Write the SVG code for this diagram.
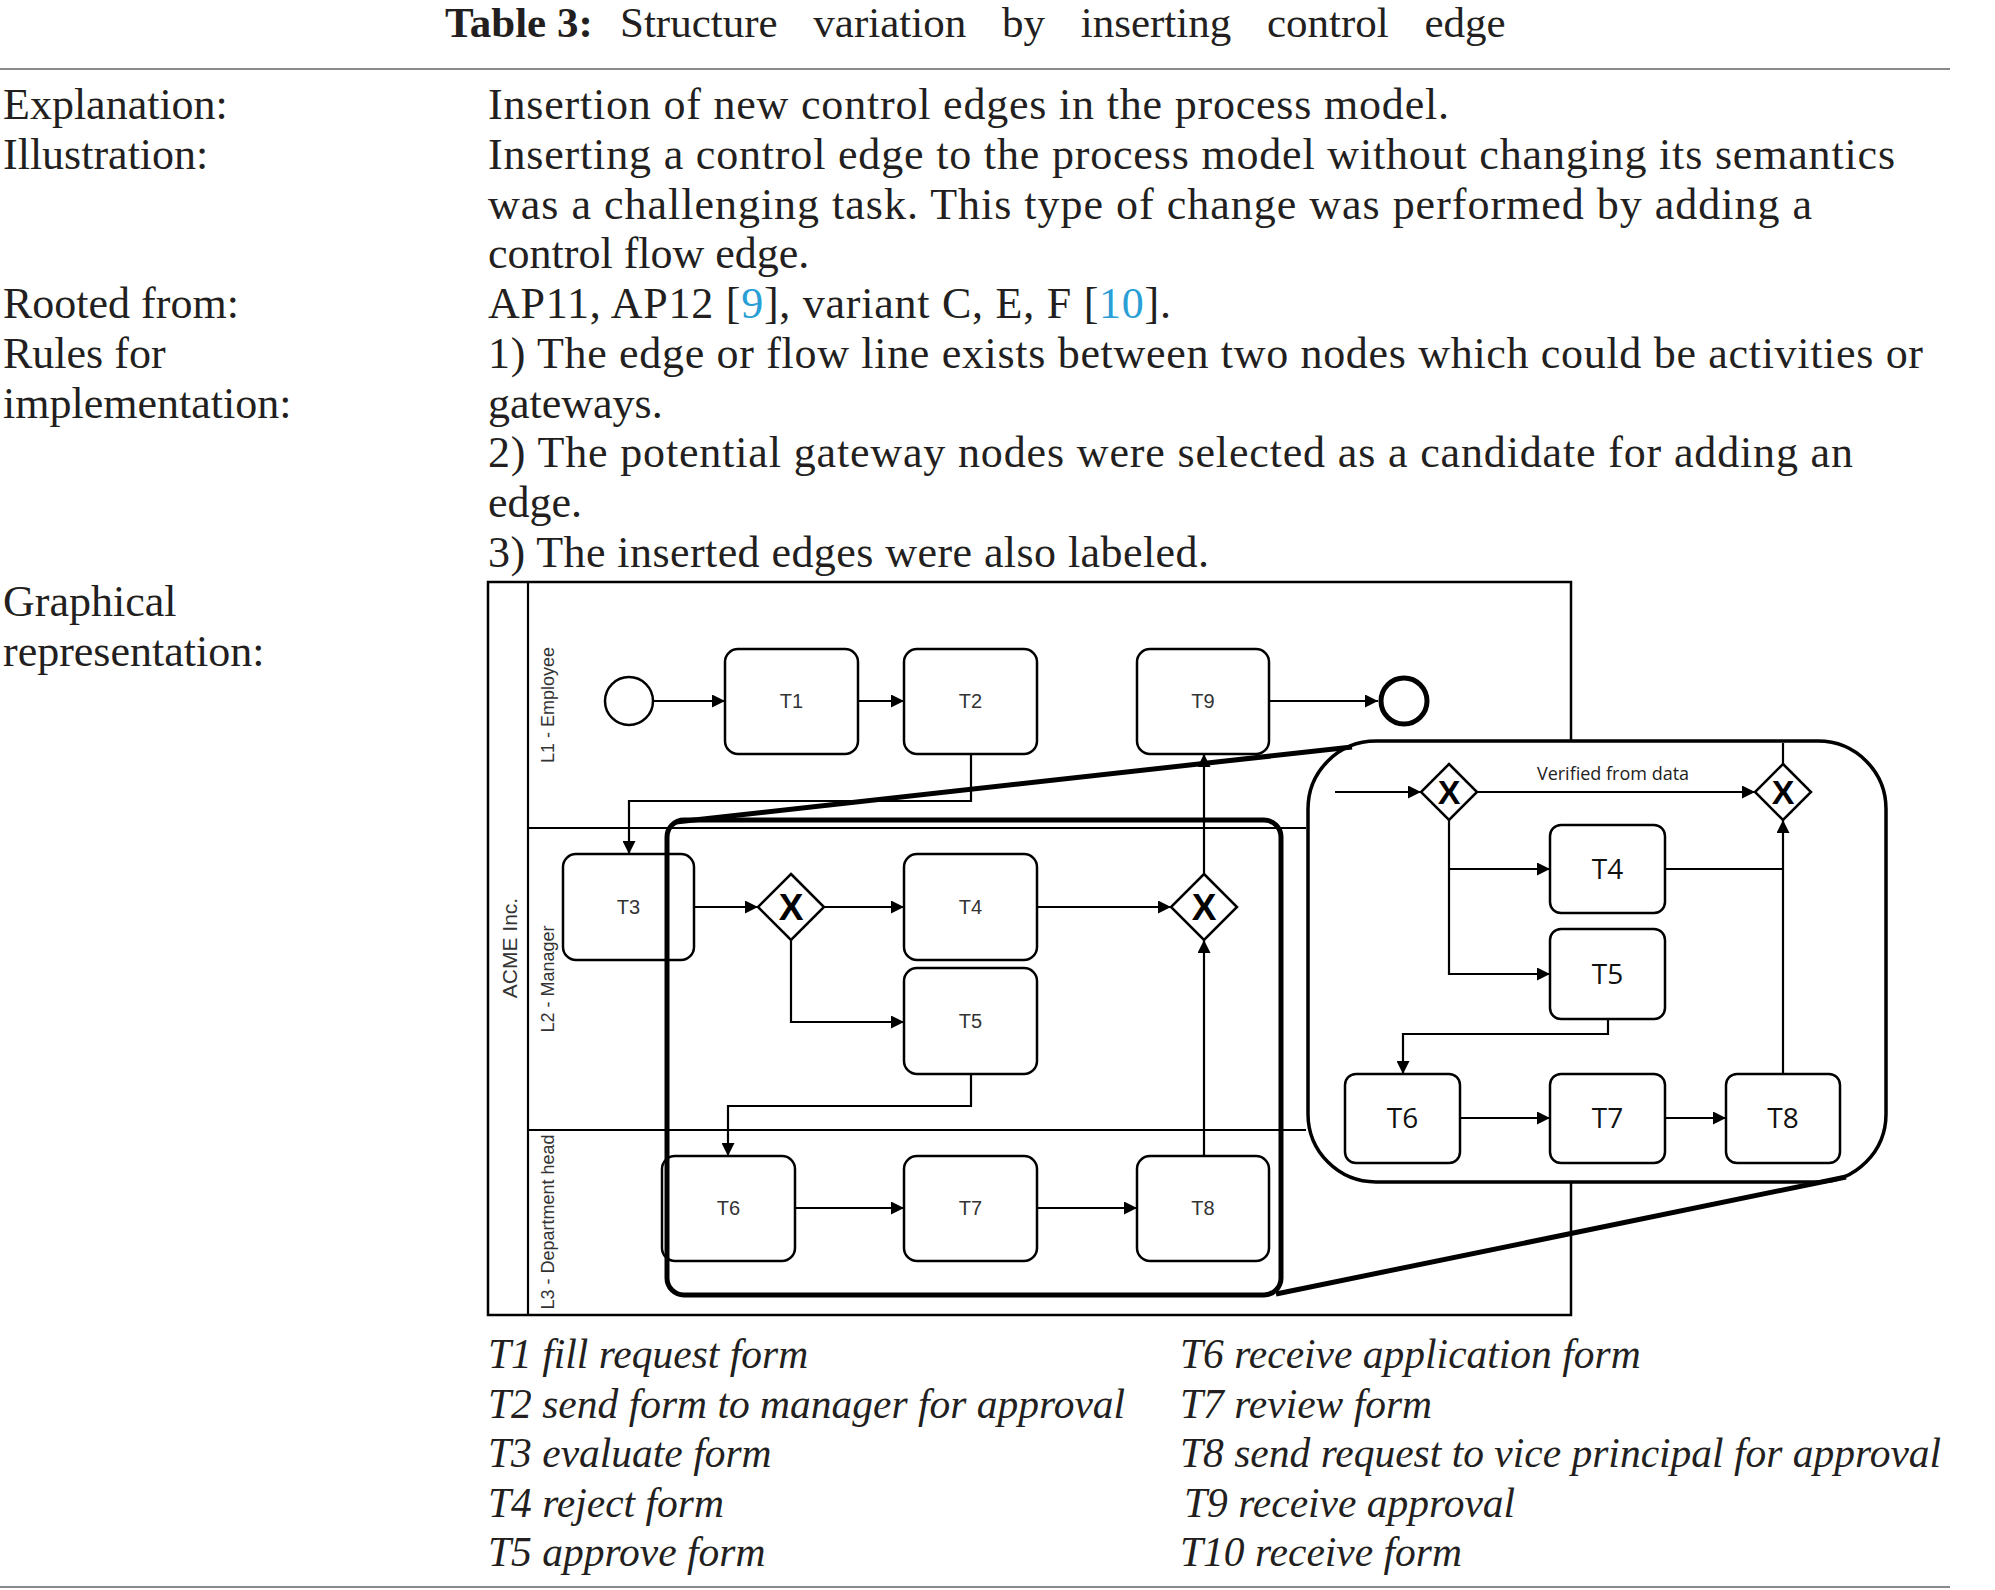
<svg xmlns="http://www.w3.org/2000/svg" width="1995" height="1590" viewBox="0 0 1995 1590">
<defs>
<style>
.title{font-family:"Liberation Serif","Times New Roman",serif;font-size:43px;fill:#231f20}
.body{font-family:"Liberation Serif","Times New Roman",serif;font-size:44px;fill:#231f20}
.leg{font-family:"Liberation Serif","Times New Roman",serif;font-size:41.5px;font-style:italic;fill:#231f20}
.task{fill:#fff;stroke:#000;stroke-width:2.5}
.tl{font-family:"Liberation Sans",Arial,sans-serif;font-size:20px;fill:#333;text-anchor:middle}
.tc{font-family:"Open Sans","Noto Sans",sans-serif;font-size:28px;fill:#111;text-anchor:middle}
.gw{fill:#fff;stroke:#000;stroke-width:2.5}
.gx{font-family:"Liberation Sans",Arial,sans-serif;font-weight:bold;font-size:37px;fill:#000;text-anchor:middle}
.gxc{font-family:"Liberation Sans",Arial,sans-serif;font-weight:bold;font-size:34px;fill:#000;text-anchor:middle}
.ln{font-family:"Liberation Sans",Arial,sans-serif;font-size:18px;fill:#333;text-anchor:middle}
.edge{fill:none;stroke:#000;stroke-width:2.2}
.arr{marker-end:url(#ah)}
.lane{stroke:#000;stroke-width:2.2;fill:none}
</style>
<marker id="ah" viewBox="0 0 13 13" refX="13" refY="6.5" markerWidth="13" markerHeight="13" markerUnits="userSpaceOnUse" orient="auto">
<path d="M0,0 L13,6.5 L0,13 z" fill="#000"/>
</marker>
</defs>
<rect width="1995" height="1590" fill="#fff"/>

<g id="table-text">
<text class="title" x="445" y="37" font-weight="bold">Table 3:</text>
<text class="title" x="620" y="37" word-spacing="25">Structure variation by inserting control edge</text>
<line x1="0" y1="69" x2="1950" y2="69" stroke="#8a8a8a" stroke-width="2"/>
<text class="body" x="3" y="119">Explanation:</text>
<text class="body" x="3" y="169">Illustration:</text>
<text class="body" x="3" y="318">Rooted from:</text>
<text class="body" x="3" y="368">Rules for</text>
<text class="body" x="3" y="418">implementation:</text>
<text class="body" x="3" y="616">Graphical</text>
<text class="body" x="3" y="666">representation:</text>
<text class="body" x="488" y="119" textLength="961" lengthAdjust="spacing">Insertion of new control edges in the process model.</text>
<text class="body" x="488" y="169" textLength="1407" lengthAdjust="spacing">Inserting a control edge to the process model without changing its semantics</text>
<text class="body" x="488" y="219" textLength="1324" lengthAdjust="spacing">was a challenging task. This type of change was performed by adding a</text>
<text class="body" x="488" y="268">control flow edge.</text>
<text class="body" x="488" y="318" textLength="683" lengthAdjust="spacing">AP11, AP12 [<tspan fill="#2a9fd6">9</tspan>], variant C, E, F [<tspan fill="#2a9fd6">10</tspan>].</text>
<text class="body" x="488" y="368" textLength="1435" lengthAdjust="spacing">1) The edge or flow line exists between two nodes which could be activities or</text>
<text class="body" x="488" y="418">gateways.</text>
<text class="body" x="488" y="467" textLength="1365" lengthAdjust="spacing">2) The potential gateway nodes were selected as a candidate for adding an</text>
<text class="body" x="488" y="517">edge.</text>
<text class="body" x="488" y="567" textLength="721" lengthAdjust="spacing">3) The inserted edges were also labeled.</text>
</g>

<g id="pool">
<rect x="488" y="582" width="1083" height="733" fill="none" stroke="#000" stroke-width="2.5"/>
<line class="lane" x1="528" y1="582" x2="528" y2="1315"/>
<line class="lane" x1="528" y1="828" x2="1306" y2="828"/>
<line class="lane" x1="528" y1="1130" x2="1306" y2="1130"/>
<text x="0" y="0" transform="translate(517,948) rotate(-90)" font-family="Liberation Sans,Arial,sans-serif" font-size="21" fill="#333" text-anchor="middle">ACME Inc.</text>
<text class="ln" x="0" y="0" transform="translate(554,705) rotate(-90)">L1 - Employee</text>
<text class="ln" x="0" y="0" transform="translate(554,979) rotate(-90)">L2 - Manager</text>
<text class="ln" x="0" y="0" transform="translate(554,1222) rotate(-90)">L3 - Department head</text>
</g>

<g id="connectors">
<path class="edge arr" d="M653,701 H725"/>
<path class="edge arr" d="M858,701 H904"/>
<path class="edge arr" d="M971,754 V801 H629 V854"/>
<path class="edge arr" d="M694,907 H758"/>
<path class="edge arr" d="M824,907 H904"/>
<path class="edge arr" d="M791,940 V1022 H904"/>
<path class="edge arr" d="M1037,907 H1171"/>
<path class="edge arr" d="M971,1074 V1106 H728 V1156"/>
<path class="edge arr" d="M795,1208 H904"/>
<path class="edge arr" d="M1037,1208 H1137"/>
<path class="edge arr" d="M1204,1156 V940"/>
<path class="edge arr" d="M1204,874 V754"/>
<path class="edge arr" d="M1269,701 H1378"/>
</g>

<g id="start"><circle cx="629" cy="701" r="24" fill="#fff" stroke="#000" stroke-width="2.5"/></g>
<g id="end"><circle cx="1404" cy="701" r="23" fill="#fff" stroke="#000" stroke-width="5"/></g>
<g id="T1"><rect class="task" x="725" y="649" width="133" height="105" rx="13"/><text class="tl" x="791.5" y="708">T1</text></g>
<g id="T2"><rect class="task" x="904" y="649" width="133" height="105" rx="13"/><text class="tl" x="970.5" y="708">T2</text></g>
<g id="T9"><rect class="task" x="1137" y="649" width="132" height="105" rx="13"/><text class="tl" x="1203" y="708">T9</text></g>
<g id="T3"><rect class="task" x="563" y="854" width="131" height="106" rx="13"/><text class="tl" x="628.5" y="914">T3</text></g>
<g id="T4"><rect class="task" x="904" y="854" width="133" height="106" rx="13"/><text class="tl" x="970.5" y="914">T4</text></g>
<g id="T5"><rect class="task" x="904" y="968" width="133" height="106" rx="13"/><text class="tl" x="970.5" y="1028">T5</text></g>
<g id="T6"><rect class="task" x="662" y="1156" width="133" height="105" rx="13"/><text class="tl" x="728.5" y="1215">T6</text></g>
<g id="T7"><rect class="task" x="904" y="1156" width="133" height="105" rx="13"/><text class="tl" x="970.5" y="1215">T7</text></g>
<g id="T8"><rect class="task" x="1137" y="1156" width="132" height="105" rx="13"/><text class="tl" x="1203" y="1215">T8</text></g>
<g id="G1"><polygon class="gw" points="791,874 824,907 791,940 758,907"/><text class="gx" x="791" y="920">X</text></g>
<g id="G2"><polygon class="gw" points="1204,874 1237,907 1204,940 1171,907"/><text class="gx" x="1204" y="920">X</text></g>

<g id="highlight">
<rect x="667" y="820" width="614" height="475" rx="17" fill="none" stroke="#000" stroke-width="5"/>
</g>

<g id="callout">
<rect x="1308" y="741" width="578" height="441" rx="68" fill="#fff" stroke="#000" stroke-width="3.5"/>
</g>

<g id="zoom-lines">
<line x1="676" y1="822" x2="1352" y2="747" stroke="#000" stroke-width="5"/>
<line x1="1276" y1="1294" x2="1846" y2="1177" stroke="#000" stroke-width="5"/>
</g>

<g id="callout-connectors">
<path class="edge arr" d="M1335,792 H1421"/>
<path class="edge arr" d="M1477,792 H1755"/>
<path class="edge" d="M1783,764 V743"/>
<path class="edge arr" d="M1449,820 V974 H1550"/>
<path class="edge arr" d="M1449,869 H1550"/>
<path class="edge" d="M1665,869 H1783"/>
<path class="edge arr" d="M1783,1074 V820"/>
<path class="edge arr" d="M1608,1019 V1034 H1403 V1074"/>
<path class="edge arr" d="M1460,1118 H1550"/>
<path class="edge arr" d="M1665,1118 H1726"/>
<text x="1613" y="780" font-family="Open Sans,Noto Sans,sans-serif" font-size="18" fill="#222" text-anchor="middle">Verified from data</text>
</g>

<g id="C-G1"><polygon class="gw" points="1449,764 1477,792 1449,820 1421,792"/><text class="gxc" x="1449" y="804">X</text></g>
<g id="C-G2"><polygon class="gw" points="1783,764 1811,792 1783,820 1755,792"/><text class="gxc" x="1783" y="804">X</text></g>
<g id="C-T4"><rect class="task" x="1550" y="825" width="115" height="88" rx="11"/><text class="tc" x="1607.5" y="879">T4</text></g>
<g id="C-T5"><rect class="task" x="1550" y="929" width="115" height="90" rx="11"/><text class="tc" x="1607.5" y="984">T5</text></g>
<g id="C-T6"><rect class="task" x="1345" y="1074" width="115" height="89" rx="11"/><text class="tc" x="1402.5" y="1128">T6</text></g>
<g id="C-T7"><rect class="task" x="1550" y="1074" width="115" height="89" rx="11"/><text class="tc" x="1607.5" y="1128">T7</text></g>
<g id="C-T8"><rect class="task" x="1726" y="1074" width="114" height="89" rx="11"/><text class="tc" x="1783" y="1128">T8</text></g>

<g id="legend">
<text class="leg" x="488" y="1368">T1 fill request form</text>
<text class="leg" x="488" y="1418">T2 send form to manager for approval</text>
<text class="leg" x="488" y="1467">T3 evaluate form</text>
<text class="leg" x="488" y="1517">T4 reject form</text>
<text class="leg" x="488" y="1566">T5 approve form</text>
<text class="leg" x="1180" y="1368">T6 receive application form</text>
<text class="leg" x="1180" y="1418">T7 review form</text>
<text class="leg" x="1180" y="1467">T8 send request to vice principal for approval</text>
<text class="leg" x="1184" y="1517">T9 receive approval</text>
<text class="leg" x="1180" y="1566">T10 receive form</text>
<line x1="0" y1="1587" x2="1950" y2="1587" stroke="#8a8a8a" stroke-width="2"/>
</g>
</svg>
